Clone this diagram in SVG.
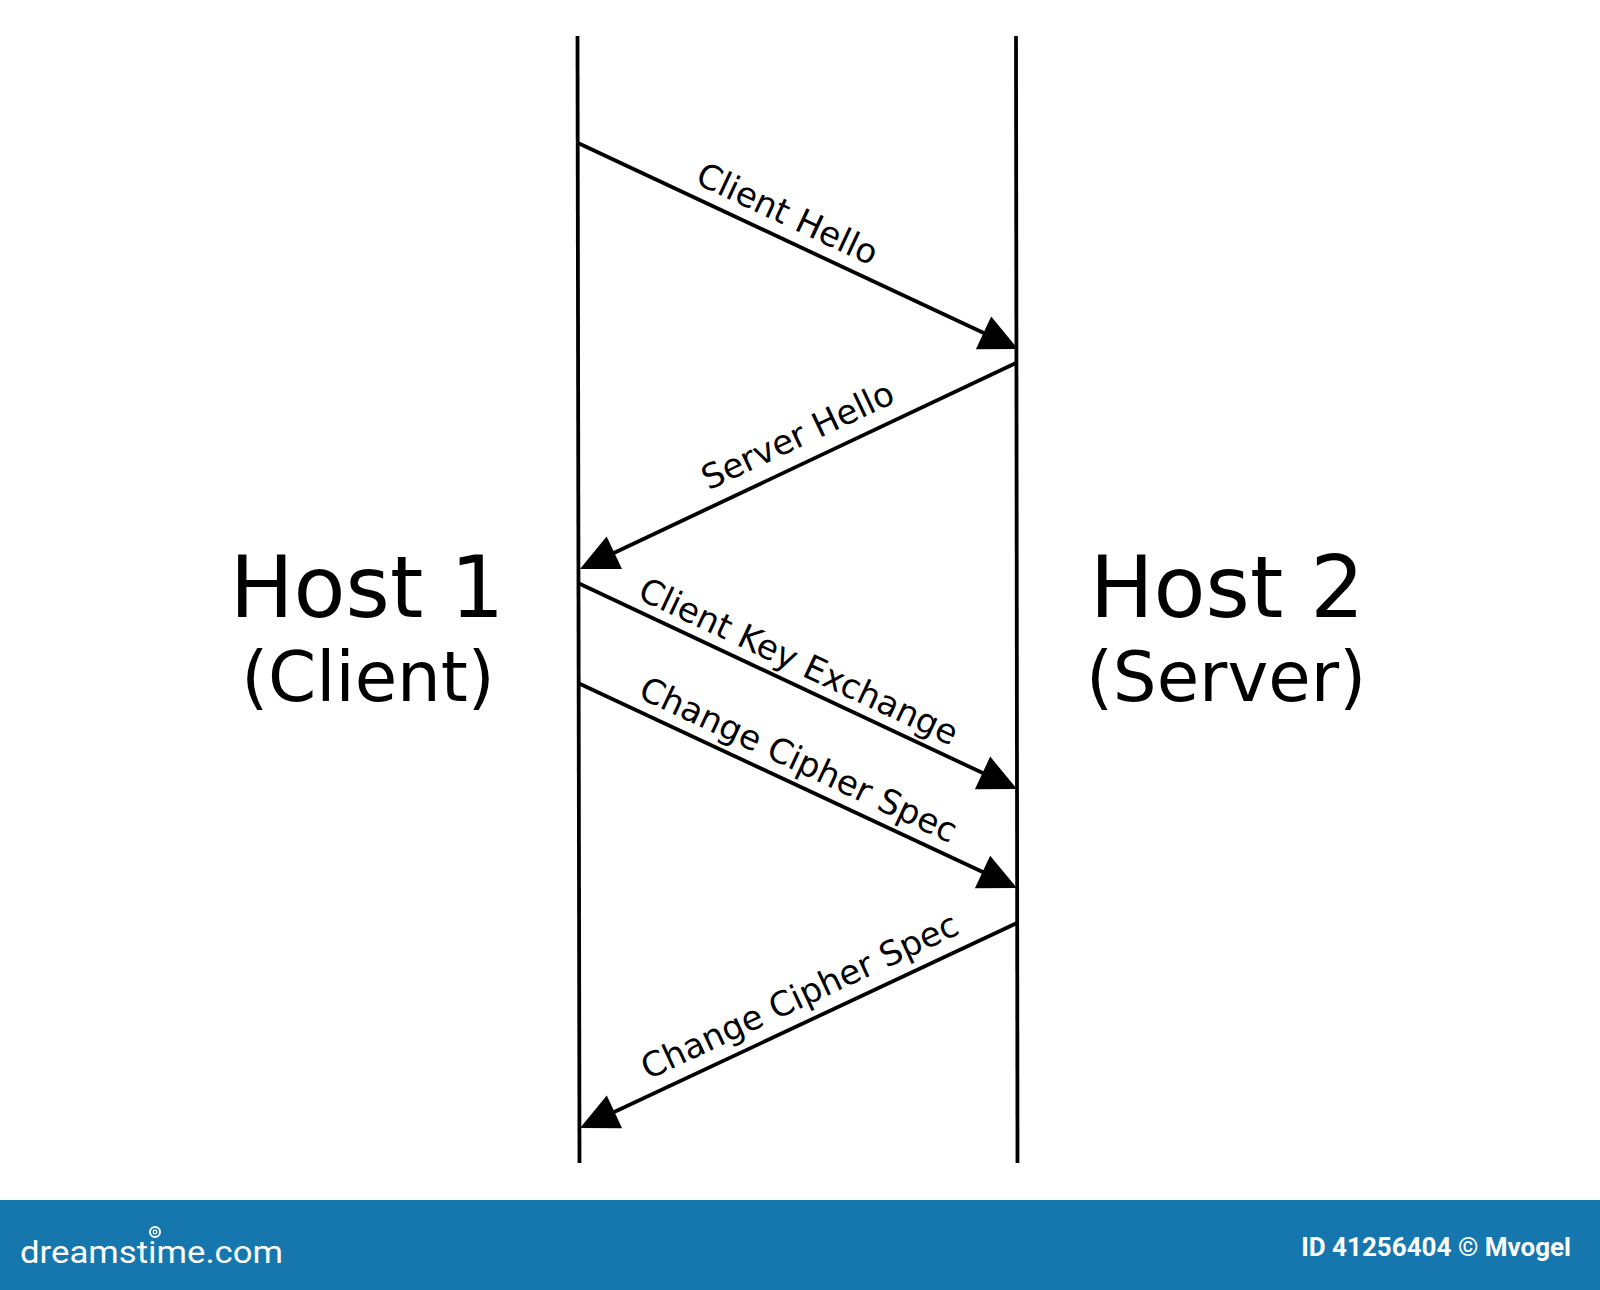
<svg xmlns="http://www.w3.org/2000/svg" width="1600" height="1290" viewBox="0 0 1600 1290">
  <style>
    .life { stroke: #000; stroke-width: 3.8; fill: none; }
    .msg { stroke: #000; stroke-width: 3.8; fill: none; marker-end: url(#arrow); }
    .lbl { font-family: "DejaVu Sans", "Liberation Sans", sans-serif; font-size: 34px; fill: #000; text-anchor: middle; }
    .host { font-family: "DejaVu Sans", "Liberation Sans", sans-serif; font-size: 85px; fill: #000; text-anchor: middle; }
    .role { font-family: "DejaVu Sans", "Liberation Sans", sans-serif; font-size: 69px; fill: #000; text-anchor: middle; }
    .foot { font-family: Roboto, "Liberation Sans", sans-serif; fill: #fff; }
  </style>
  <defs>
    <marker id="arrow" markerUnits="userSpaceOnUse" viewBox="-30 -20 42 40" refX="0" refY="0" markerWidth="42" markerHeight="40" orient="auto">
      <path d="M-28,-18 L10,0 L-28,18 Z" fill="#000"/>
    </marker>
  </defs>
  <rect width="1600" height="1290" fill="#fff"/>

  <g id="host1">
    <line class="life" x1="577.5" y1="36" x2="579.5" y2="1163"/>
    <text class="host" x="367" y="617">Host 1</text>
    <text class="role" x="368" y="701">(Client)</text>
  </g>
  <g id="host2">
    <line class="life" x1="1016" y1="36" x2="1017.5" y2="1163"/>
    <text class="host" x="1227" y="617">Host 2</text>
    <text class="role" x="1226" y="701">(Server)</text>
  </g>

  <g id="connectors">
    <line class="msg" x1="578" y1="143" x2="1008.9" y2="344.8"/>
    <line class="msg" x1="1016" y1="363" x2="589" y2="564.7"/>
    <line class="msg" x1="578" y1="583" x2="1007.9" y2="784.8"/>
    <line class="msg" x1="578" y1="683" x2="1007.9" y2="883.8"/>
    <line class="msg" x1="1017" y1="923" x2="589.1" y2="1123.8"/>
    <text class="lbl" transform="translate(777,236.2) rotate(25.09)" y="-13">Client Hello</text>
    <text class="lbl" transform="translate(809.5,460.5) rotate(-25.29)" y="-16">Server Hello</text>
    <text class="lbl" transform="translate(789,682) rotate(25.14)" y="-11">Client Key Exchange</text>
    <text class="lbl" transform="translate(788.5,781.2) rotate(25.03)" y="-12">Change Cipher Spec</text>
    <text class="lbl" transform="translate(810.5,1019.2) rotate(-25.13)" y="-14">Change Cipher Spec</text>
  </g>

  <g id="footer">
    <rect x="0" y="1200" width="1600" height="90" fill="#1577ae"/>
    <text class="foot" x="20" y="1263" font-size="31" textLength="263" lengthAdjust="spacingAndGlyphs" font-family="'DejaVu Sans', sans-serif">dreamstime.com</text>
    <circle cx="155" cy="1232" r="5" fill="none" stroke="#fff" stroke-width="2"/>
    <circle cx="155" cy="1232" r="1.8" fill="none" stroke="#fff" stroke-width="1.2"/>
    <text class="foot" x="1571" y="1256" font-size="26" font-weight="bold" text-anchor="end">ID 41256404 © Mvogel</text>
  </g>
</svg>
